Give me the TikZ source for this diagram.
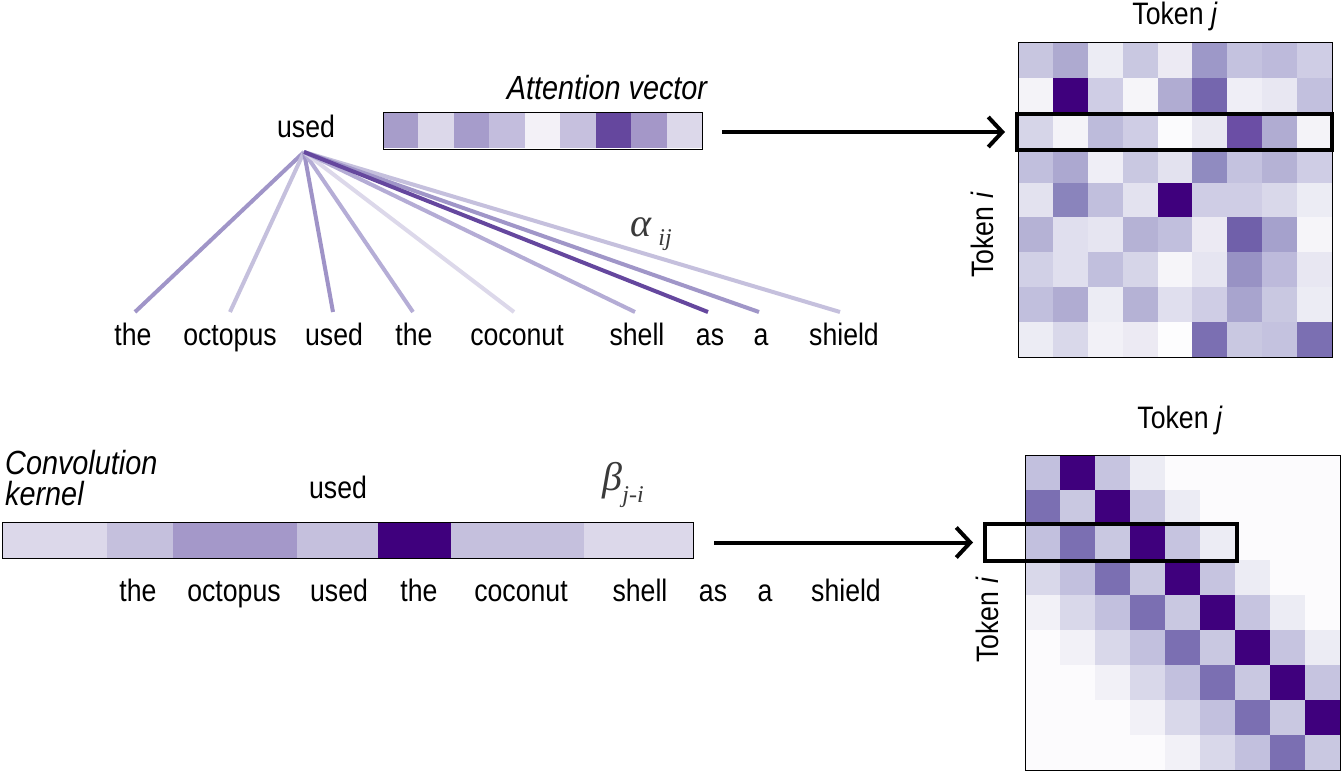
\documentclass[tikz,border=0pt]{standalone}
\usepackage{fontspec}
\setmainfont{Liberation Sans}[FakeStretch=0.86]
\newfontfamily\serf{Liberation Serif}
\usetikzlibrary{arrows.meta}
\definecolor{greek}{HTML}{3A3A3A}
\newcommand\cellrow[4]{%
  \foreach \c [count=\k from 0] in {#4} {%
    \edef\tmp{\noexpand\definecolor{cc}{HTML}{\c}}\tmp
    \fill[cc] ({#1+\k*#3},#2) rectangle ++(#3,#3);
  }}
\newcommand\barseg[4]{%
  \definecolor{cc}{HTML}{#4}\fill[cc] (#1,#3) rectangle (#2,#3+36);}
\begin{document}
\begin{tikzpicture}[x=1pt,y=-1pt,
  word/.style={font=\fontsize{31}{34}\selectfont, anchor=base, inner sep=0pt},
  ital/.style={font=\fontsize{33.5}{36}\selectfont\itshape, anchor=base, inner sep=0pt},
  greekbig/.style={font=\serf\itshape\fontsize{40}{40}\selectfont, text=greek, inner sep=0pt, anchor=base},
  greeksub/.style={font=\serf\itshape\fontsize{24}{24}\selectfont, text=greek, inner sep=0pt, anchor=base},
  link/.style={line width=4pt},
  arr/.style={line width=4pt, -{Straight Barb[length=14pt,width=30pt,line width=4pt]}},
  frame/.style={draw=black, line width=1pt, inner sep=0pt, outer sep=0pt, anchor=north west},
  hlbox/.style={draw=black, line width=4.5pt, inner sep=0pt, outer sep=0pt, anchor=north west}]
\useasboundingbox (0,0) rectangle (1342,773);
\fill[white] (0,0) rectangle (1342,773);

% ---------------- top: attention ----------------
\node[word] (usedtop) at (306,138) {used};
\node[ital] (attlbl) at (607,100) {Attention vector};

% attention vector
\cellrow{383}{113}{35.44}{A79DCA,DCD8EA,A69CCB,C3BDDD,F3F1F7,C6C0DE,65479E,A497C8,DCD8EA}
\fill[white] (383,150) rectangle (702,160);
\node[frame, minimum width=319pt, minimum height=37pt] (vec) at (383,113) {};

% words
\foreach \n/\x/\t in {w1/133/the, w2/230/octopus, w3/334/used, w4/414/the, w5/517/coconut, w6/637/shell, w7/710/as, w8/761/a, w9/844/shield}
  \node[word] (\n) at (\x,345) {\t};

\coordinate (apex) at (304,152);
\foreach \n/\x in {e1/135, e2/230, e3/333, e4/413, e5/514, e6/635, e7/708, e8/759, e9/840}
  \coordinate (\n) at (\x,312);

\foreach \e/\col in {e1/A095C8, e2/C5C0DD, e3/9F93C7, e4/B5ADD6, e5/DCD8EA, e6/B4ACD5, e9/C5C0DD, e8/A096C8, e7/65479E} {
  \definecolor{lc}{HTML}{\col}
  \draw[link, lc] (apex) -- (\e);
}

\node[greekbig] (alpha) at (641,236) {α};
\node[greeksub] (alphasub) at (665,245) {ij};

% top matrix
\node[word] (tj1) at (1175,25) {Token \textit{j}};
\node[word, rotate=90] (ti1) at (993,235) {Token \textit{i}};
\begin{scope}
\def\s{34.889}
\cellrow{1018}{43}{\s}{C8C6E0,AEAAD0,ECECF4,C9C8E1,ECEAF3,9D98C8,C4C2DF,BDBADB,CFCDE5}
\cellrow{1018}{77.889}{\s}{F4F3F8,3F007D,CFCDE5,F6F5F9,B0ACD2,7566AE,EFEEF6,E8E7F2,C2C0DE}
\cellrow{1018}{112.778}{\s}{D6D5E8,F4F3F8,BDBBDB,CFCDE5,FBFBFD,E9E8F2,6B4EA5,B0ACD2,F4F3F8}
\cellrow{1018}{147.667}{\s}{C1BFDD,ACA8D0,EFEEF6,C9C8E1,E3E2EF,908BC0,C4C2DF,B5B2D5,CFCDE5}
\cellrow{1018}{182.556}{\s}{E3E2EF,8A84BC,C1BFDD,E3E2EF,3F007D,CFCDE5,CFCDE5,D9D8EA,ECECF4}
\cellrow{1018}{217.444}{\s}{B5B2D5,E0DFEE,E6E5F1,B5B2D5,C1BFDD,ECEAF3,7060AA,A5A1CC,F6F5F9}
\cellrow{1018}{252.333}{\s}{D1D0E6,E0DFEE,C1BFDD,D6D5E8,F6F5F9,E6E5F1,9892C4,BDBADB,E8E7F2}
\cellrow{1018}{287.222}{\s}{C1BFDD,B0ACD2,ECECF4,B5B2D5,E0DFEE,CFCDE5,A8A4CE,C9C8E1,ECECF4}
\cellrow{1018}{322.111}{\s}{ECECF4,D9D8EA,F2F1F7,ECEAF3,FDFDFE,7B6FB2,C9C8E1,C4C2DF,7B6FB2}
\end{scope}
\node[frame, minimum width=314pt, minimum height=314pt] (M1) at (1018,43) {};
\node[hlbox, minimum width=315pt, minimum height=36pt] (hl1) at (1017,114) {};

\draw[arr] ([xshift=20pt]vec.east |- hl1.west) -- ([xshift=-12pt]hl1.west);

% ---------------- bottom: convolution ----------------
\node[ital, anchor=base west] (conv) at (5,474) {Convolution};
\node[ital, anchor=base west] (kern) at (5,505) {kernel};
\node[word] (usedbot) at (338,498) {used};
\node[greekbig] (beta) at (612,490) {β};
\node[greeksub] (betasub) at (633,502) {j-i};

\barseg{2}{107}{522}{DCD8EA}
\barseg{107}{173}{522}{C5C0DD}
\barseg{173}{297}{522}{A498C9}
\barseg{297}{378}{522}{C5C0DD}
\barseg{378}{451}{522}{3F007D}
\barseg{451}{584}{522}{C5C0DD}
\barseg{584}{693}{522}{DCD8EA}
\node[frame, minimum width=691pt, minimum height=36pt] (kbar) at (2,522) {};

\foreach \n/\x/\t in {b1/138/the, b2/234/octopus, b3/339/used, b4/419/the, b5/521/coconut, b6/640/shell, b7/713/as, b8/765/a, b9/846/shield}
  \node[word] (\n) at (\x,601) {\t};

% bottom matrix
\node[word] (tj2) at (1180,428) {Token \textit{j}};
\node[word, rotate=90] (ti2) at (998,620) {Token \textit{i}};
\begin{scope}
\def\s{35}
\cellrow{1025}{455}{\s}{C2C0DE,3F007D,C6C4E0,ECECF4,FCFBFD,FCFBFD,FCFBFD,FCFBFD,FCFBFD}
\cellrow{1025}{490}{\s}{7B6FB2,C9C8E1,3F007D,C6C4E0,ECECF4,FCFBFD,FCFBFD,FCFBFD,FCFBFD}
\cellrow{1025}{525}{\s}{C2C0DE,7B6FB2,C9C8E1,3F007D,C6C4E0,ECECF4,FCFBFD,FCFBFD,FCFBFD}
\cellrow{1025}{560}{\s}{D9D8EA,C2C0DE,7B6FB2,C9C8E1,3F007D,C6C4E0,ECECF4,FCFBFD,FCFBFD}
\cellrow{1025}{595}{\s}{F2F1F7,D9D8EA,C2C0DE,7B6FB2,C9C8E1,3F007D,C6C4E0,ECECF4,FCFBFD}
\cellrow{1025}{630}{\s}{FCFBFD,F2F1F7,D9D8EA,C2C0DE,7B6FB2,C9C8E1,3F007D,C6C4E0,ECECF4}
\cellrow{1025}{665}{\s}{FCFBFD,FCFBFD,F2F1F7,D9D8EA,C2C0DE,7B6FB2,C9C8E1,3F007D,C6C4E0}
\cellrow{1025}{700}{\s}{FCFBFD,FCFBFD,FCFBFD,F2F1F7,D9D8EA,C2C0DE,7B6FB2,C9C8E1,3F007D}
\cellrow{1025}{735}{\s}{FCFBFD,FCFBFD,FCFBFD,FCFBFD,F2F1F7,D9D8EA,C2C0DE,7B6FB2,C9C8E1}
\end{scope}
\node[frame, minimum width=315pt, minimum height=315pt] (M2) at (1025,455) {};
\node[hlbox, minimum width=252pt, minimum height=37pt] (hl2) at (985,524) {};

\draw[arr] ([xshift=21pt]kbar.east |- hl2.west) -- ([xshift=-12pt]hl2.west);
\end{tikzpicture}
\end{document}
